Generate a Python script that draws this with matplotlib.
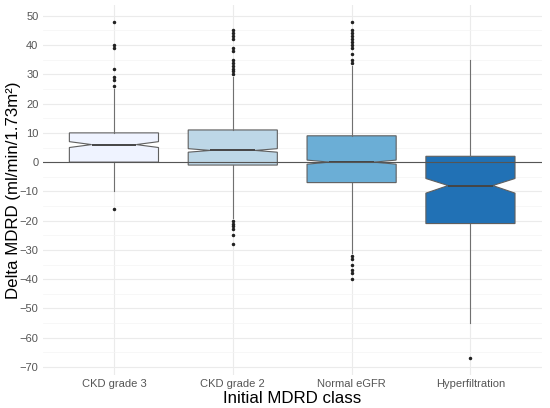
import matplotlib.pyplot as plt
from matplotlib.ticker import MultipleLocator

plt.rcParams['font.family'] = ['Liberation Sans', 'DejaVu Sans']

# box statistics
classes = ['CKD grade 3', 'CKD grade 2', 'Normal eGFR', 'Hyperfiltration']
medians = [6, 4, 0, -8]
q1 = [0, -1, -7, -21]
q3 = [10, 11, 9, 2]
ci_lo = [5, 3.4, -0.7, -10.6]
ci_hi = [7, 4.6, 0.7, -5.6]
whisk_lo = [-10, -19, -31, -55]
whisk_hi = [25, 29, 33, 35]
outliers = [
    [48, 40, 39, 32, 29, 28, 26, -16],
    [45, 44, 43, 42, 39, 38, 35, 34, 33, 32, 31, 30,
     -20, -21, -22, -23, -25, -28],
    [48, 45, 44, 43, 42, 41, 40, 39, 37, 35, 34,
     -32, -33, -35, -37, -38, -40],
    [-67],
]
colors = ['#EFF3FF', '#BDD7E7', '#6BAED6', '#2171B5']

stats = []
for i in range(len(classes)):
    stats.append(dict(med=medians[i], q1=q1[i], q3=q3[i],
                      cilo=ci_lo[i], cihi=ci_hi[i],
                      whislo=whisk_lo[i], whishi=whisk_hi[i],
                      fliers=outliers[i], label=classes[i]))

fig, ax = plt.subplots(figsize=(5.5, 4.08), dpi=100)
fig.subplots_adjust(left=0.0775, right=0.985, top=0.988, bottom=0.081)

edge = '#5f5f5f'
bp = ax.bxp(stats, positions=range(1, 5), widths=0.75, shownotches=True,
            patch_artist=True, showcaps=False,
            boxprops=dict(edgecolor=edge, linewidth=0.8),
            medianprops=dict(color='#454545', linewidth=1.4),
            whiskerprops=dict(color='#707070', linewidth=0.8),
            flierprops=dict(marker='o', markersize=1.5, markerfacecolor='#222222',
                            markeredgecolor='#222222', linestyle='none'))
for patch, c in zip(bp['boxes'], colors):
    patch.set_facecolor(c)

ax.axhline(0, color='#555555', linewidth=0.8, zorder=5)

ax.set_xlim(0.4, 4.6)
ax.set_ylim(-72.75, 53.75)
ax.yaxis.set_major_locator(MultipleLocator(10))
ax.yaxis.set_minor_locator(MultipleLocator(5))
ax.set_xticks(range(1, 5))
ax.set_xticklabels(classes)
ax.grid(which='major', color='#EBEBEB', linewidth=0.8)
ax.grid(which='minor', axis='y', color='#F4F4F4', linewidth=0.5)
ax.set_axisbelow(True)
for s in ax.spines.values():
    s.set_visible(False)
ax.tick_params(which='both', length=0, labelsize=8, labelcolor='#555555', pad=3)

ax.set_xlabel('Initial MDRD class', fontsize=12.2, labelpad=1)
ax.set_ylabel('Delta MDRD (ml/min/1.73m²)', fontsize=12.2)
ax.yaxis.set_label_coords(-0.044, 0.5)

fig.savefig('out.png', dpi=100)
